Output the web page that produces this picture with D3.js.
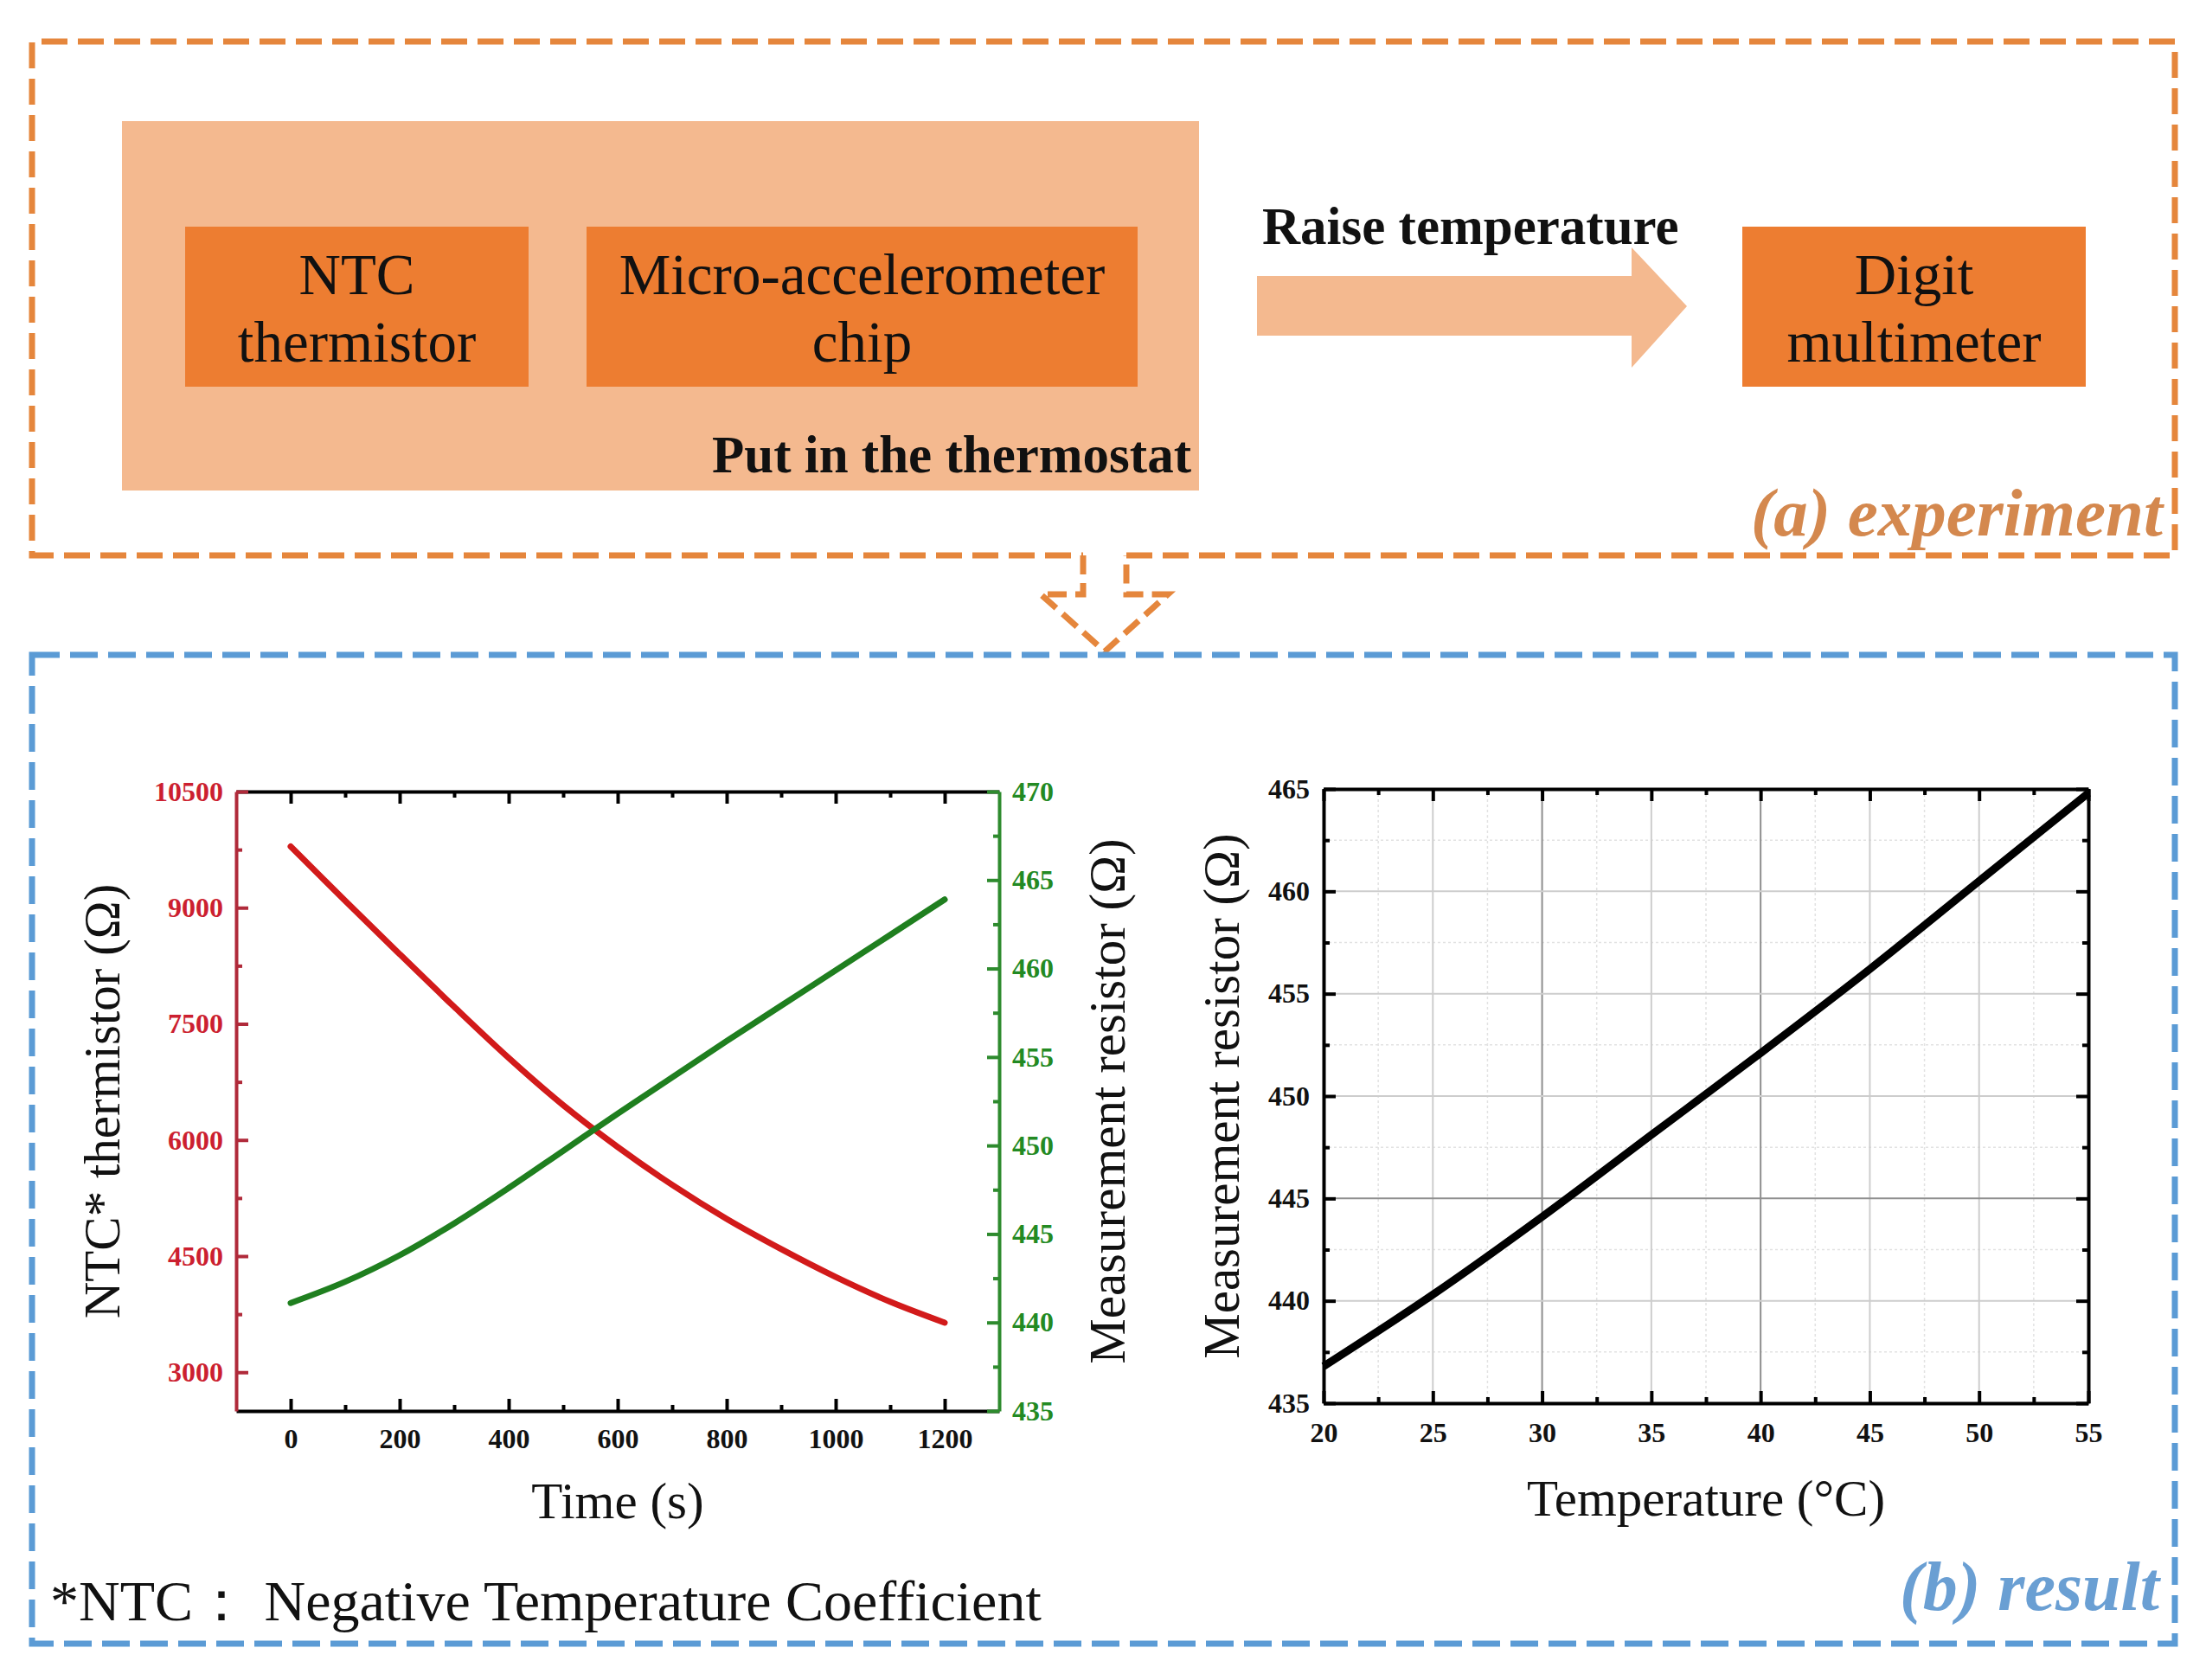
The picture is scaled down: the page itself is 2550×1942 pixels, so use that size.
<!DOCTYPE html>
<html>
<head>
<meta charset="utf-8">
<script src="https://cdn.jsdelivr.net/npm/d3@7"></script>
<style>
  body { margin: 0; background: #fff; }
  text { font-family: "Liberation Serif", "Times New Roman", serif; }
</style>
</head>
<body>
<script>
// ---- data ----
var timeS = [0, 100, 200, 300, 400, 500, 600, 700, 800, 900, 1000, 1100, 1200];
var ntcOhm = [9790, 9090, 8400, 7720, 7060, 6450, 5910, 5420, 4980, 4590, 4230, 3910, 3640];
var measOhmByTime = [441.1, 442.3, 443.8, 445.6, 447.6, 449.7, 451.8, 453.85, 455.9, 457.9, 459.9, 461.9, 463.9];

var tempC = [20, 25, 30, 35, 40, 45, 50, 55];
var measOhmByTemp = [436.8, 440.3, 444.1, 448.1, 452.1, 456.2, 460.5, 464.8];

var timeTicks = [0, 200, 400, 600, 800, 1000, 1200];
var timeMinor = [100, 300, 500, 700, 900, 1100];
var ntcTicks = [3000, 4500, 6000, 7500, 9000, 10500];
var ntcMinor = [3750, 5250, 6750, 8250, 9750];
var measTicksA = [435, 440, 445, 450, 455, 460, 465, 470];
var measMinorA = [437.5, 442.5, 447.5, 452.5, 457.5, 462.5, 467.5];
var tempTicks = [20, 25, 30, 35, 40, 45, 50, 55];
var tempMinor = [22.5, 27.5, 32.5, 37.5, 42.5, 47.5, 52.5];
var measTicksB = [435, 440, 445, 450, 455, 460, 465];
var measMinorB = [437.5, 442.5, 447.5, 452.5, 457.5, 462.5];
var darkGridX = [30, 40];
var darkGridY = [445];

var W = 2550, H = 1942;
var svg = d3.select("body").append("svg")
    .attr("width", W)
    .attr("height", H);

svg.append("rect").attr("width", W).attr("height", H).attr("fill", "#fff");

var orange = "#e5863c", peach = "#f4b98f", boxOrange = "#ed7d31", blue = "#5b9bd5";
var fmt = d3.format("d");

// ---------- (a) experiment ----------
// dashed frame, open where the down arrow leaves it
svg.append("path")
    .attr("d", "M1302,642 L2514,642 L2514,48 L37,48 L37,642 L1252,642")
    .attr("fill", "none")
    .attr("stroke", orange)
    .attr("stroke-width", 7)
    .attr("stroke-dasharray", "30,12");

svg.append("rect").attr("x", 141).attr("y", 140).attr("width", 1245).attr("height", 427).attr("fill", peach);

var boxes = [
    {x: 214, w: 397, lines: ["NTC", "thermistor"]},
    {x: 678, w: 637, lines: ["Micro-accelerometer", "chip"]},
    {x: 2014, w: 397, lines: ["Digit", "multimeter"]}
];
boxes.forEach(function(b) {
    svg.append("rect").attr("x", b.x).attr("y", 262).attr("width", b.w).attr("height", 185).attr("fill", boxOrange);
    b.lines.forEach(function(t, i) {
        svg.append("text")
            .attr("x", b.x + b.w / 2)
            .attr("y", 340 + i * 78)
            .attr("text-anchor", "middle")
            .style("font-size", "67px")
            .style("fill", "#111")
            .text(t);
    });
});

svg.append("text")
    .attr("x", 1377).attr("y", 546)
    .attr("text-anchor", "end")
    .style("font-size", "61px").style("font-weight", "bold").style("fill", "#111")
    .text("Put in the thermostat");

svg.append("path")
    .attr("d", "M1453,319 L1886,319 L1886,286 L1950,354 L1886,425 L1886,388 L1453,388 Z")
    .attr("fill", peach);

svg.append("text")
    .attr("x", 1459).attr("y", 282)
    .style("font-size", "61px").style("font-weight", "bold").style("fill", "#111")
    .text("Raise temperature");

svg.append("text")
    .attr("x", 2500).attr("y", 619)
    .attr("text-anchor", "end")
    .style("font-size", "79px").style("font-weight", "bold").style("font-style", "italic")
    .style("fill", "#d4884e")
    .text("(a) experiment");

// dashed down arrow between the two frames
svg.append("path")
    .attr("d", "M1252,642 L1252,687 L1203,687 L1277,753 L1350,687 L1302,687 L1302,642")
    .attr("fill", "none")
    .attr("stroke", orange)
    .attr("stroke-width", 7)
    .attr("stroke-dasharray", "22,10");

// ---------- (b) result ----------
svg.append("rect")
    .attr("x", 37).attr("y", 757).attr("width", 2477).attr("height", 1143)
    .attr("fill", "none")
    .attr("stroke", blue)
    .attr("stroke-width", 7)
    .attr("stroke-dasharray", "32,12");

svg.append("text")
    .attr("x", 2496).attr("y", 1861)
    .attr("text-anchor", "end")
    .style("font-size", "80px").style("font-weight", "bold").style("font-style", "italic")
    .style("fill", "#6a9fd3")
    .text("(b) result");

svg.append("text")
    .attr("x", 58).attr("y", 1873)
    .style("font-size", "66px").style("fill", "#111")
    .text("*NTC\uFF1A Negative Temperature Coefficient");

function styleAxis(g, color, labelColor) {
    g.select(".domain").attr("stroke", color).attr("stroke-width", 4);
    g.selectAll(".tick line").attr("stroke", color).attr("stroke-width", 4);
    g.selectAll(".tick text")
        .style("font-family", '"Liberation Serif", "Times New Roman", serif')
        .style("font-size", "32px")
        .style("font-weight", "bold")
        .attr("fill", labelColor || color);
}
function minorAxis(axis, color, pos) {
    var g = svg.append("g").attr("transform", pos).call(axis.tickSize(-7).tickFormat(""));
    g.select(".domain").remove();
    g.selectAll(".tick line").attr("stroke", color).attr("stroke-width", 4);
    return g;
}

// ---- left chart: NTC and measurement resistor vs time ----
var xT = d3.scaleLinear().domain([-100, 1300]).range([273, 1155]);
var yN = d3.scaleLinear().domain([2500, 10500]).range([1631, 915]);
var yM = d3.scaleLinear().domain([435, 470]).range([1631, 915]);

var ntcLine = d3.line()
    .x(function(d, i) { return xT(timeS[i]); })
    .y(function(d) { return yN(d); })
    .curve(d3.curveCatmullRom);
var measLine = d3.line()
    .x(function(d, i) { return xT(timeS[i]); })
    .y(function(d) { return yM(d); })
    .curve(d3.curveCatmullRom);

svg.append("path").attr("d", ntcLine(ntcOhm))
    .attr("fill", "none").attr("stroke", "#d21a1a").attr("stroke-width", 7).attr("stroke-linecap", "round");
svg.append("path").attr("d", measLine(measOhmByTime))
    .attr("fill", "none").attr("stroke", "#1f7f1f").attr("stroke-width", 7).attr("stroke-linecap", "round");

var red = "#b02a3a", redText = "#cc1f30", green = "#2e8b2e", greenText = "#238a23";

styleAxis(svg.append("g").attr("transform", "translate(0,915)")
    .call(d3.axisTop(xT).tickValues(timeTicks).tickSize(-14).tickSizeOuter(0).tickFormat("")), "#000");
minorAxis(d3.axisTop(xT).tickValues(timeMinor), "#000", "translate(0,915)");
styleAxis(svg.append("g").attr("transform", "translate(0,1631)")
    .call(d3.axisBottom(xT).tickValues(timeTicks).tickSize(-14).tickSizeOuter(0).tickPadding(20).tickFormat(fmt)), "#000", "#111");
minorAxis(d3.axisBottom(xT).tickValues(timeMinor), "#000", "translate(0,1631)");

styleAxis(svg.append("g").attr("transform", "translate(273,0)")
    .call(d3.axisLeft(yN).tickValues(ntcTicks).tickSize(-14).tickSizeOuter(0).tickPadding(15).tickFormat(fmt)), red, redText);
minorAxis(d3.axisLeft(yN).tickValues(ntcMinor), red, "translate(273,0)");

styleAxis(svg.append("g").attr("transform", "translate(1155,0)")
    .call(d3.axisRight(yM).tickValues(measTicksA).tickSize(-14).tickSizeOuter(0).tickPadding(15).tickFormat(fmt)), green, greenText);
minorAxis(d3.axisRight(yM).tickValues(measMinorA), green, "translate(1155,0)");

svg.append("text")
    .attr("transform", "translate(138,1273) rotate(-90)")
    .attr("text-anchor", "middle")
    .style("font-size", "59px").style("fill", "#111")
    .text("NTC* thermistor (\u03A9)");
svg.append("text")
    .attr("transform", "translate(1300,1273) rotate(-90)")
    .attr("text-anchor", "middle")
    .style("font-size", "59px").style("fill", "#111")
    .text("Measurement resistor (\u03A9)");
svg.append("text")
    .attr("x", 714).attr("y", 1755)
    .attr("text-anchor", "middle")
    .style("font-size", "59px").style("fill", "#111")
    .text("Time (s)");

// ---- right chart: measurement resistor vs temperature ----
var xC = d3.scaleLinear().domain([20, 55]).range([1530, 2414]);
var yR = d3.scaleLinear().domain([435, 465]).range([1622, 912]);

var grid = svg.append("g");
tempMinor.forEach(function(v) {
    grid.append("line").attr("x1", xC(v)).attr("x2", xC(v)).attr("y1", 912).attr("y2", 1622)
        .attr("stroke", "#e2e2e2").attr("stroke-width", 1.5).attr("stroke-dasharray", "3,3");
});
measMinorB.forEach(function(v) {
    grid.append("line").attr("x1", 1530).attr("x2", 2414).attr("y1", yR(v)).attr("y2", yR(v))
        .attr("stroke", "#e2e2e2").attr("stroke-width", 1.5).attr("stroke-dasharray", "3,3");
});
tempTicks.forEach(function(v) {
    grid.append("line").attr("x1", xC(v)).attr("x2", xC(v)).attr("y1", 912).attr("y2", 1622)
        .attr("stroke", darkGridX.indexOf(v) >= 0 ? "#8e8e8e" : "#cdcdcd").attr("stroke-width", 2);
});
measTicksB.forEach(function(v) {
    grid.append("line").attr("x1", 1530).attr("x2", 2414).attr("y1", yR(v)).attr("y2", yR(v))
        .attr("stroke", darkGridY.indexOf(v) >= 0 ? "#8e8e8e" : "#cdcdcd").attr("stroke-width", 2);
});

var tempLine = d3.line()
    .x(function(d, i) { return xC(tempC[i]); })
    .y(function(d) { return yR(d); })
    .curve(d3.curveCatmullRom);
svg.append("path").attr("d", tempLine(measOhmByTemp))
    .attr("fill", "none").attr("stroke", "#000").attr("stroke-width", 9);

styleAxis(svg.append("g").attr("transform", "translate(0,912)")
    .call(d3.axisTop(xC).tickValues(tempTicks).tickSize(-14).tickSizeOuter(0).tickFormat("")), "#000");
minorAxis(d3.axisTop(xC).tickValues(tempMinor), "#000", "translate(0,912)");
styleAxis(svg.append("g").attr("transform", "translate(0,1622)")
    .call(d3.axisBottom(xC).tickValues(tempTicks).tickSize(-14).tickSizeOuter(0).tickPadding(22).tickFormat(fmt)), "#000", "#111");
minorAxis(d3.axisBottom(xC).tickValues(tempMinor), "#000", "translate(0,1622)");
styleAxis(svg.append("g").attr("transform", "translate(1530,0)")
    .call(d3.axisLeft(yR).tickValues(measTicksB).tickSize(-14).tickSizeOuter(0).tickPadding(16).tickFormat(fmt)), "#000", "#111");
minorAxis(d3.axisLeft(yR).tickValues(measMinorB), "#000", "translate(1530,0)");
styleAxis(svg.append("g").attr("transform", "translate(2414,0)")
    .call(d3.axisRight(yR).tickValues(measTicksB).tickSize(-14).tickSizeOuter(0).tickFormat("")), "#000");
minorAxis(d3.axisRight(yR).tickValues(measMinorB), "#000", "translate(2414,0)");

svg.append("text")
    .attr("transform", "translate(1432,1267) rotate(-90)")
    .attr("text-anchor", "middle")
    .style("font-size", "59px").style("fill", "#111")
    .text("Measurement resistor (\u03A9)");
svg.append("text")
    .attr("x", 1972).attr("y", 1752)
    .attr("text-anchor", "middle")
    .style("font-size", "59px").style("fill", "#111")
    .text("Temperature (\u00B0C)");
</script>
</body>
</html>
